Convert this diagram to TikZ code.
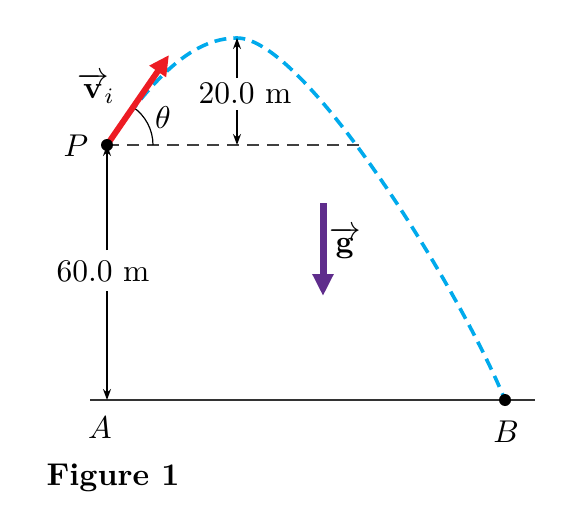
\documentclass[tikz,border=0pt]{standalone}
\usepackage{amsmath}
\usetikzlibrary{arrows.meta}
\definecolor{trajblue}{RGB}{0,170,236}
\definecolor{velred}{RGB}{237,28,36}
\definecolor{gpurple}{RGB}{95,45,140}
\tikzset{
  lbl/.style={inner sep=0pt, scale=3.15, transform shape},
  dim/.style={line width=1.4pt, -{Stealth[length=11pt,width=8pt]}},
  dot/.style={circle, fill=black, inner sep=0pt, minimum size=12pt},
  traj/.style={trajblue, line width=3.6pt, dash pattern=on 12pt off 7pt},
  refline/.style={black!75, line width=1.5pt, dash pattern=on 12pt off 8pt}
}
\begin{document}
\begin{tikzpicture}[x=1pt,y=-1pt]
\useasboundingbox (0,0) rectangle (582,522);
% ground
\coordinate (gl) at (90,400);
\coordinate (gr) at (535,400);
\draw[black!80, line width=2pt] (gl) -- (gr);
\coordinate (Pc) at (107,145);
\coordinate (Ac) at (107,400);
\coordinate (Bc) at (505,400);
\coordinate (apex) at (237,38);
\coordinate (hend) at (365,145);
\coordinate (h1) at (237,145);
% horizontal dashed line
\draw[refline] (Pc) -- (hend);
% trajectory
\draw[traj] (Pc) .. controls (150,82) and (190,38) .. (apex)
  .. controls (305,38) and (460,290) .. (Bc);
% 20.0 m dimension
\node[lbl] (d20) at (245,93) {20.0 m};
\coordinate (u1) at (237,78);
\coordinate (u2) at (237,110);
\draw[dim] (u1) -- (apex);
\draw[dim] (u2) -- (h1);
% 60.0 m dimension
\node[lbl] (d60) at (103,271) {60.0 m};
\coordinate (v1) at (107,250);
\coordinate (v2) at (107,291);
\draw[dim] (v1) -- (Pc);
\draw[dim] (v2) -- (Ac);
% angle arc
\draw[black, line width=1.2pt] (153,145) arc[start angle=0, end angle=-55.7, radius=46];
\node[lbl] (th) at (163,118) {$\theta$};
% velocity arrow
\coordinate (vt) at (169,55);
\draw[velred, line width=6pt, -{Triangle[length=20pt,width=19pt]}] (Pc) -- (vt);
\node[lbl] (vi) at (96,88) {$\overrightarrow{\mathbf{v}}_{\!i}$};
% dots
\node[dot] (P) at (Pc) {};
\node[dot] (B) at (Bc) {};
\node[lbl] (Pl) at (76,146) {$P$};
\node[lbl] (Al) at (100,428) {$A$};
\node[lbl] (Bl) at (506,432) {$B$};
% g arrow
\coordinate (g1) at (323,203);
\coordinate (g2) at (323,296);
\draw[gpurple, line width=7pt, -{Triangle[length=22pt,width=20pt]}] (g1) -- (g2);
\node[lbl] (gv) at (345,243) {$\overrightarrow{\mathbf{g}}$};
% caption
\node[lbl, font=\bfseries] (cap) at (113,478) {Figure 1};
\end{tikzpicture}
\end{document}
